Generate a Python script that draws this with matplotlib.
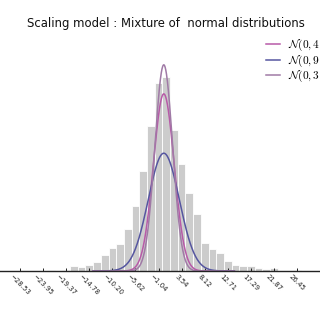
import numpy as np
import matplotlib
matplotlib.use("Agg")
import matplotlib.pyplot as plt

plt.rcParams['mathtext.fontset'] = 'cm'

# Histogram: bin centers start and width, counts per bin
bin_start = -28.53
bin_width = 1.5272
counts = [0, 0, 0, 0, 1, 0, 1.5, 5, 4.3, 6.5, 9, 16, 23, 27, 42, 65, 100, 145,
          188, 194, 141, 107, 78, 57, 28, 22, 18, 10, 6, 5.3, 5, 2.7, 2, 3.3,
          0, 0, 1]

tick_labels = ["−28.53", "−23.95", "−19.37", "−14.78", "−10.20", "−5.62",
               "−1.04", "3.54", "8.12", "12.71", "17.29", "21.87", "26.45"]

# Mixture components (mean, variance) and common scale
means = [0.0, 0.0, 0.0]
variances = [4.2, 9.5, 3.1]
labels = [r"$\mathcal{N}(0,4.2)$", r"$\mathcal{N}(0,9.5)$", r"$\mathcal{N}(0,3.1)$"]
colors = ["#b85aa8", "#5656a0", "#a07aa6"]
curve_scale = 910.0

fig = plt.figure(figsize=(3.2, 3.2), dpi=100)
ax = fig.add_axes([0.0, 49/320, 1.0, 231/320])

centers = bin_start + bin_width * np.arange(len(counts))
ax.bar(centers, counts, width=bin_width, color="#cccccc", edgecolor="white",
       linewidth=0.6, zorder=1)

xs = np.linspace(-14, 14, 600)
for m, v, lab, c in zip(means, variances, labels, colors):
    ys = curve_scale / np.sqrt(2 * np.pi * v) * np.exp(-(xs - m) ** 2 / (2 * v))
    ax.plot(xs, ys, color=c, lw=1.1, label=lab, zorder=2)

ax.set_xlim(-32.5, 31.0)
ax.set_ylim(0, 231)

tick_pos = centers[::3][:len(tick_labels)]
ax.set_xticks(tick_pos)
ax.set_xticklabels(tick_labels, rotation=-45, ha="center", fontsize=5)
ax.tick_params(axis="x", direction="in", length=2.5, width=0.7, pad=2,
               colors="#222222")
ax.set_yticks([])
for s in ["top", "left", "right"]:
    ax.spines[s].set_visible(False)
ax.spines["bottom"].set_linewidth(1.0)
ax.spines["bottom"].set_color("#222222")
ax.spines["bottom"].set_zorder(3)

ax.set_title("Scaling model : Mixture of  normal distributions", fontsize=8.4,
             x=165.5/320, pad=9.5, color="#111111")

fig.legend(loc="upper left", bbox_to_anchor=(266/320, 1 - 38/320),
           frameon=False, fontsize=8.2, borderpad=0, borderaxespad=0,
           handlelength=1.2, handletextpad=0.75, labelspacing=0.02)

fig.savefig("out.png", dpi=100)
